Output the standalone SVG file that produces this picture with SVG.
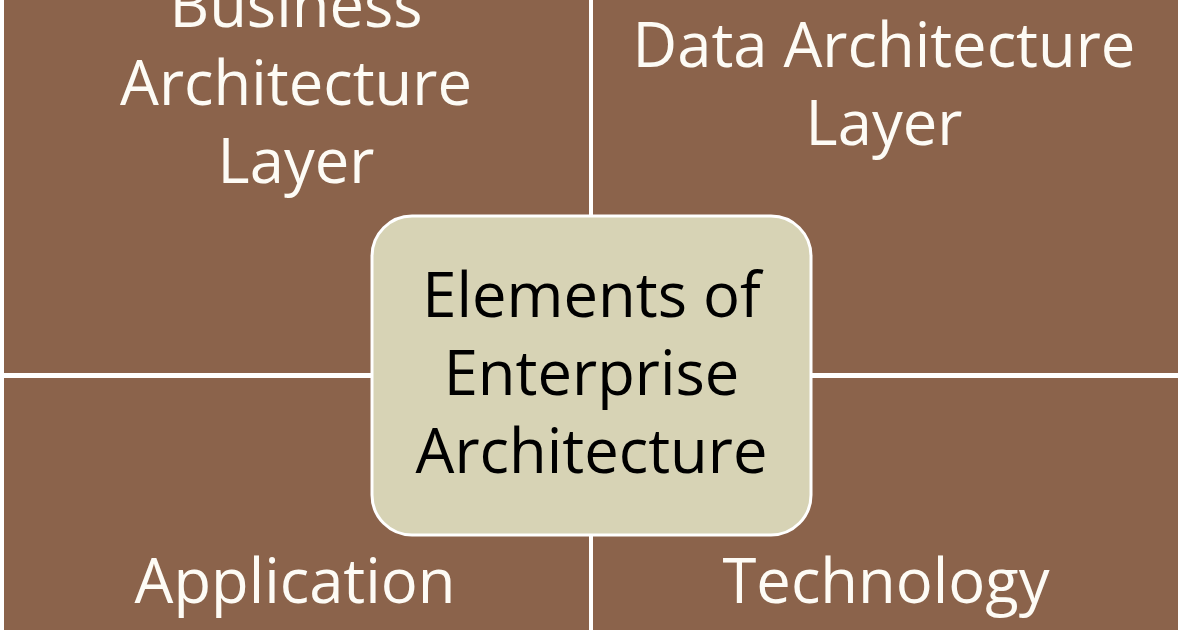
<svg xmlns="http://www.w3.org/2000/svg" width="1200" height="630" viewBox="0 0 1200 630">
<style>
.quad{fill:#8b634b;}
.qt{font-family:"Open Sans","Noto Sans",sans-serif;font-size:61.5px;fill:#fdfbf5;text-anchor:middle;}
.ct{font-family:"Open Sans","Noto Sans",sans-serif;font-size:61.5px;fill:#000000;text-anchor:middle;}
</style>
<rect x="0" y="0" width="1200" height="630" fill="#ffffff"/>
<g id="business">
<rect class="quad" x="4" y="0" width="585" height="373"/>
<text class="qt"><tspan x="296" y="27">Business</tspan><tspan x="296" y="105">Architecture</tspan><tspan x="296" y="183">Layer</tspan></text>
</g>
<g id="data">
<rect class="quad" x="593" y="0" width="585" height="373"/>
<text class="qt"><tspan x="884" y="67">Data Architecture</tspan><tspan x="884" y="145">Layer</tspan></text>
</g>
<g id="application">
<rect class="quad" x="4" y="378" width="585" height="252"/>
<text class="qt" x="295" y="603">Application</text>
</g>
<g id="technology">
<rect class="quad" x="593" y="378" width="585" height="252"/>
<text class="qt" x="886" y="603">Technology</text>
</g>
<g id="center">
<rect x="372" y="216" width="439" height="319" rx="40" ry="40" fill="#d7d3b5" stroke="#ffffff" stroke-width="3"/>
<text class="ct"><tspan x="591.5" y="317">Elements of</tspan><tspan x="591.5" y="395">Enterprise</tspan><tspan x="591.5" y="473">Architecture</tspan></text>
</g>
</svg>
